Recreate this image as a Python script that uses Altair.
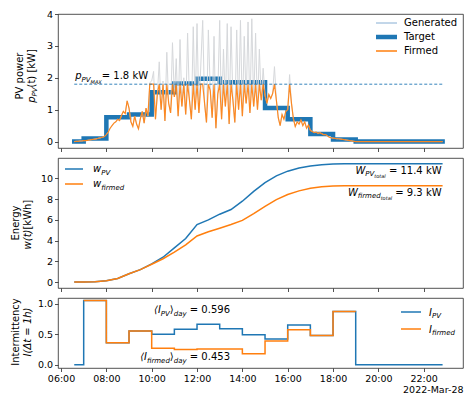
import altair as alt
import pandas as pd

FONT = "DejaVu Sans"
F = 10
BLUE = "#1f77b4"
ORANGE = "#ff7f0e"
DAY = "2022-03-28"

# ---------------- data ----------------
power_start = "06:35"   # 5-minute samples from here to 19:00
power_end = "22:50"
generated = [
    0.00, 0.01, 0.01, 0.02, 0.02,
    0.03, 0.03, 0.04, 0.05, 0.06, 0.07, 0.08, 0.09, 0.11, 0.12, 0.14, 0.16,
    0.22, 0.30, 0.42, 0.50, 0.58, 0.62, 0.70, 0.66, 0.82, 0.95, 0.88, 1.28,
    1.05, 0.62, 0.48, 0.80, 0.55, 0.40, 0.72, 0.95, 0.58, 1.05, 0.80, 1.85,
    1.90, 2.20, 0.70, 1.50, 2.50, 1.00, 1.90, 0.65, 2.80, 1.20, 0.90, 3.10,
    1.40, 2.60, 0.80, 3.20, 1.10, 2.00, 0.85, 3.40, 1.30, 0.70, 3.60, 1.00,
    3.70, 0.90, 2.40, 3.80, 1.20, 0.60, 3.50, 1.60, 0.75, 3.30, 0.42, 1.50,
    3.80, 0.70, 2.90, 1.10, 3.70, 0.55, 3.60, 1.30, 0.60, 3.50, 1.00, 3.80,
    0.80, 3.30, 1.20, 3.75, 0.90, 3.85, 1.10, 3.40, 1.00, 2.90, 1.30, 2.30,
    1.45, 1.20, 1.48, 1.35, 1.50, 2.35, 1.30, 0.75, 0.50, 0.85, 0.70, 0.95,
    1.00, 2.10, 1.20, 0.72, 0.47, 0.62, 0.55, 0.68, 0.50, 0.62, 0.42, 0.52,
    0.35, 0.32, 0.28, 0.30, 0.26, 0.28, 0.25, 0.22, 0.22, 0.18, 0.14, 0.12,
    0.11, 0.10, 0.09, 0.09, 0.08, 0.07, 0.06, 0.05, 0.04, 0.03, 0.02, 0.01,
    0.00,
]
firmed = [
    0.00, 0.01, 0.01, 0.02, 0.02,
    0.03, 0.03, 0.04, 0.05, 0.06, 0.07, 0.08, 0.09, 0.11, 0.12, 0.14, 0.16,
    0.22, 0.30, 0.42, 0.50, 0.58, 0.62, 0.70, 0.66, 0.82, 0.95, 0.88, 1.28,
    1.05, 0.62, 0.48, 0.80, 0.55, 0.40, 0.72, 0.95, 0.58, 1.05, 0.80, 1.80,
    1.80, 1.80, 0.70, 1.50, 1.80, 1.00, 1.80, 0.65, 1.80, 1.20, 0.90, 1.80,
    1.40, 1.80, 0.80, 1.80, 1.10, 1.80, 0.85, 1.80, 1.30, 0.70, 1.80, 1.00,
    1.80, 0.90, 1.80, 1.80, 1.20, 0.60, 1.80, 1.60, 0.75, 1.80, 0.42, 1.50,
    1.80, 0.70, 1.80, 1.10, 1.80, 0.55, 1.80, 1.30, 0.60, 1.80, 1.00, 1.80,
    0.80, 1.80, 1.20, 1.80, 0.90, 1.80, 1.10, 1.80, 1.00, 1.80, 1.30, 1.80,
    1.45, 1.20, 1.48, 1.35, 1.50, 1.80, 1.30, 0.75, 0.50, 0.85, 0.70, 0.95,
    1.00, 1.80, 1.20, 0.72, 0.47, 0.62, 0.55, 0.68, 0.50, 0.62, 0.42, 0.52,
    0.35, 0.32, 0.28, 0.30, 0.26, 0.28, 0.25, 0.22, 0.22, 0.18, 0.14, 0.12,
    0.11, 0.10, 0.09, 0.09, 0.08, 0.07, 0.06, 0.05, 0.04, 0.03, 0.02, 0.01,
    0.00,
]

target_times = ["06:35", "07:00", "08:00", "09:00", "10:00", "11:00", "12:00",
                "13:00", "14:00", "15:00", "16:00", "17:00", "18:00", "19:00", "22:50"]
target = [0.00, 0.10, 0.76, 0.85, 1.55, 1.82, 1.97, 1.86, 1.86, 1.05, 0.70, 0.24, 0.07, 0.00, 0.00]
P_MAX = 1.8

energy_times = ["06:35", "07:00", "07:30", "08:00", "08:30", "09:00", "09:30", "10:00", "10:30",
                "11:00", "11:30", "12:00", "12:30", "13:00", "13:30", "14:00", "14:30", "15:00",
                "15:30", "16:00", "16:30", "17:00", "17:30", "18:00", "18:30", "19:00", "22:50"]
w_pv = [0.00, 0.00, 0.03, 0.12, 0.35, 0.80, 1.20, 1.75, 2.40, 3.30, 4.20, 5.55, 6.00, 6.55,
        7.00, 7.80, 8.75, 9.60, 10.25, 10.70, 11.00, 11.20, 11.32, 11.38, 11.41, 11.42, 11.42]
w_firmed = [0.00, 0.00, 0.03, 0.12, 0.35, 0.80, 1.20, 1.72, 2.25, 2.90, 3.60, 4.45, 4.85, 5.20,
            5.55, 5.95, 6.60, 7.30, 7.95, 8.45, 8.80, 9.05, 9.20, 9.27, 9.30, 9.30, 9.30]
W_PV_TOTAL = 11.4
W_FIRMED_TOTAL = 9.3

int_pv_times = target_times
i_pv = [0.00, 1.05, 0.36, 0.55, 0.50, 0.58, 0.66, 0.59, 0.49, 0.42, 0.65, 0.48, 0.87, 0.00, 0.00]
int_firmed_times = ["07:00", "08:00", "09:00", "10:00", "11:00", "12:00", "13:00",
                    "14:00", "15:00", "16:00", "17:00", "18:00", "19:00"]
i_firmed = [1.05, 0.36, 0.55, 0.27, 0.25, 0.26, 0.26, 0.18, 0.39, 0.57, 0.48, 0.87, 0.87]
I_PV_DAY = 0.596
I_FIRMED_DAY = 0.453


def stamp(hm):
    return f"{DAY}T{hm}:00"


ptimes = [t.strftime("%Y-%m-%dT%H:%M:%S")
          for t in pd.date_range(f"{DAY} {power_start}", periods=len(generated), freq="5min")]
ptimes.append(stamp(power_end))
power_df = pd.DataFrame({"t": ptimes, "gen": generated + [0.0], "firm": firmed + [0.0]})
target_df = pd.DataFrame({"t": [stamp(s) for s in target_times], "v": target})
pmax_df = pd.DataFrame({"t": [stamp(power_start), stamp(power_end)], "v": [P_MAX, P_MAX]})
energy_df = pd.DataFrame({"t": [stamp(s) for s in energy_times], "pv": w_pv, "fi": w_firmed})
ipv_df = pd.DataFrame({"t": [stamp(s) for s in int_pv_times], "v": i_pv})
ifi_df = pd.DataFrame({"t": [stamp(s) for s in int_firmed_times], "v": i_firmed})

# ---------------- helpers ----------------
ADV = {' ': .318, '=': .838, '.': .318, 'k': .579, 'W': .989, 'V': .684, 'P': .603, 'p': .635,
       'h': .634, '(': .390, ')': .390, '[': .390, ']': .390, 't': .392, 'w': .818, 'I': .295,
       'd': .635, 'a': .613, 'y': .592, 'f': .352, 'i': .278, 'r': .411, 'm': .974, 'e': .615,
       'o': .612, 'l': .278, 'M': .863, 'A': .684, 'X': .685, '⟨': .390, '⟩': .390, 'Δ': .684,
       'n': .634, 'c': .550, 'g': .635, 'E': .632}
for _d in "0123456789":
    ADV[_d] = .636


def tw(s, size):
    return sum(ADV.get(c, 0.6) for c in s) * size


def rich(pieces, x, y, align="left", data=None, dx0=0.0, dy0=0.0):
    out = []
    seq = pieces if align == "left" else list(reversed(pieces))
    off = dx0
    for text, size, italic, shift in seq:
        props = dict(text=text, font=FONT, fontSize=size, color="black", align=align,
                     baseline="alphabetic", dx=off, dy=dy0 + shift)
        if italic:
            props["fontStyle"] = "italic"
        base = alt.Chart(data) if data is not None else alt.Chart()
        out.append(base.mark_text(**props).encode(x=x, y=y))
        w = tw(text, size)
        off = off + w if align == "left" else off - w
    return out


def vtitle(pieces, x, yc):
    total = sum(tw(t, s) for t, s, _, _ in pieces)
    y = yc + total / 2
    out = []
    for text, size, italic, shift in pieces:
        props = dict(text=text, font=FONT, fontSize=size, color="black", align="left",
                     baseline="middle", angle=270)
        if italic:
            props["fontStyle"] = "italic"
        out.append(alt.Chart().mark_text(**props).encode(x=alt.value(x + shift), y=alt.value(y)))
        y -= tw(text, size)
    return out


def leg_line(x1, x2, y, color, width):
    return alt.Chart().mark_rule(color=color, strokeWidth=width).encode(
        x=alt.value(x1), x2=alt.value(x2), y=alt.value(y))


def dt(h, m=0):
    return alt.DateTime(year=2022, month=3, date=28, hours=h, minutes=m)


W = 405
H1, H2, H3 = 134, 130, 70
S = 0.7 * F
SS = 0.5 * F

xscale = alt.Scale(domain=[dt(5, 52), dt(23, 44)])
tick_vals = [dt(h) for h in range(6, 23, 2)]
ax_hidden = alt.Axis(values=tick_vals, labels=False, title=None)
ax_bottom = alt.Axis(values=tick_vals, format="%H:%M", title="2022-Mar-28", titleAnchor="end")
X_hidden = alt.X("t:T", scale=xscale, axis=ax_hidden)
X_bottom = alt.X("t:T", scale=xscale, axis=ax_bottom)


def Yq(field, domain, values, fmt="d"):
    return alt.Y(f"{field}:Q", scale=alt.Scale(domain=domain, nice=False, zero=False),
                 axis=alt.Axis(values=values, title=None, format=fmt))


Y1 = lambda f: Yq(f, [-0.2, 4.0], [0, 1, 2, 3, 4])
Y2 = lambda f: Yq(f, [-0.57, 11.97], [0, 2, 4, 6, 8, 10])
Y3 = lambda f: Yq(f, [-0.052, 1.09], [0.0, 0.5, 1.0], ".1f")

# ---------------- top panel ----------------
top_layers = [
    alt.Chart(target_df).mark_line(interpolate="step-after", color=BLUE, strokeWidth=4.5,
                                   strokeCap="square").encode(x=X_hidden, y=Y1("v")),
    alt.Chart(power_df).mark_line(color="#d6d8db", strokeWidth=1).encode(x=X_hidden, y=Y1("gen")),
    alt.Chart(power_df).mark_line(color=ORANGE, strokeWidth=1.2, opacity=0.9).encode(
        x=X_hidden, y=Y1("firm")),
    alt.Chart(pmax_df).mark_line(color=BLUE, strokeWidth=0.9, strokeDash=[3, 2]).encode(
        x=X_hidden, y=Y1("v")),
]
pmax_anchor = pd.DataFrame({"t": [stamp(power_start)], "v": [P_MAX]})
top_layers += rich([("p", F, True, 0), ("PV", S, True, 2.5), ("MAX", SS, True, 4.5),
                    (f" = {P_MAX:.1f} kW", F, False, 0)],
                   X_hidden, Y1("v"), align="left", data=pmax_anchor, dx0=1, dy0=-5)
top_layers += [
    leg_line(W - 87, W - 66, 9, "#86aed3", 1.0),
    leg_line(W - 87, W - 66, 23, BLUE, 4.5),
    leg_line(W - 87, W - 66, 37, ORANGE, 1.5),
]
for lab, yy in [("Generated", 9), ("Target", 23), ("Firmed", 37)]:
    top_layers.append(alt.Chart().mark_text(text=lab, font=FONT, fontSize=F, color="black",
                                            align="left", baseline="middle").encode(
        x=alt.value(W - 59), y=alt.value(yy)))
top_layers.append(alt.Chart().mark_text(text="PV power", font=FONT, fontSize=F, color="black",
                                        align="center", baseline="middle", angle=270).encode(
    x=alt.value(-38), y=alt.value(62)))
top_layers += vtitle([("p", F, True, 0), ("PV", S, True, 3), ("(t) [kW]", F, False, 0)], -26, 62)
top = alt.layer(*top_layers).properties(width=W, height=H1)

# ---------------- middle panel ----------------
mid_layers = [
    alt.Chart(energy_df).mark_line(color=BLUE, strokeWidth=1.5).encode(x=X_hidden, y=Y2("pv")),
    alt.Chart(energy_df).mark_line(color=ORANGE, strokeWidth=1.5).encode(x=X_hidden, y=Y2("fi")),
]
wpv_anchor = pd.DataFrame({"t": [stamp(power_end)], "v": [W_PV_TOTAL]})
wfi_anchor = pd.DataFrame({"t": [stamp(power_end)], "v": [W_FIRMED_TOTAL]})
mid_layers += rich([("W", F, True, 0), ("PV", S, True, 2.5), ("total", SS, True, 4.5),
                    (f" = {W_PV_TOTAL:.1f} kW", F, False, 0)],
                   X_hidden, Y2("v"), align="right", data=wpv_anchor, dx0=-1, dy0=10)
mid_layers += rich([("W", F, True, 0), ("firmed", S, True, 2.5), ("total", SS, True, 4.5),
                    (f" = {W_FIRMED_TOTAL:.1f} kW", F, False, 0)],
                   X_hidden, Y2("v"), align="right", data=wfi_anchor, dx0=-1, dy0=10)
mid_layers += [leg_line(7, 25, 11, BLUE, 1.5), leg_line(7, 25, 26, ORANGE, 1.5)]
mid_layers += rich([("w", F, True, 0), ("PV", S, True, 2.5)], alt.value(35), alt.value(14))
mid_layers += rich([("w", F, True, 0), ("firmed", S, True, 2.5)], alt.value(35), alt.value(29))
mid_layers.append(alt.Chart().mark_text(text="Energy", font=FONT, fontSize=F, color="black",
                                        align="center", baseline="middle", angle=270).encode(
    x=alt.value(-42), y=alt.value(H2 / 2)))
mid_layers += vtitle([("w(t)", F, True, 0), (" [kWh]", F, False, 0)], -30, H2 / 2)
mid = alt.layer(*mid_layers).properties(width=W, height=H2)

# ---------------- bottom panel ----------------
bot_layers = [
    alt.Chart(ipv_df).mark_line(interpolate="step-after", color=BLUE, strokeWidth=1.5).encode(
        x=X_bottom, y=Y3("v")),
    alt.Chart(ifi_df).mark_line(interpolate="step-after", color=ORANGE, strokeWidth=1.5).encode(
        x=X_bottom, y=Y3("v")),
]
bot_layers += rich([("⟨I", F, True, 0), ("PV", S, True, 2.5), ("⟩", F, False, 0),
                    ("day", S, True, 2.5), (f" = {I_PV_DAY:.3f}", F, False, 0)],
                   alt.value(172), alt.value(15), align="right")
bot_layers += rich([("⟨I", F, True, 0), ("firmed", S, True, 2.5), ("⟩", F, False, 0),
                    ("day", S, True, 2.5), (f" = {I_FIRMED_DAY:.3f}", F, False, 0)],
                   alt.value(172), alt.value(62), align="right")
bot_layers += [leg_line(W - 62, W - 42, 14, BLUE, 1.5), leg_line(W - 62, W - 42, 31, ORANGE, 1.5)]
bot_layers += rich([("I", F, True, 0), ("PV", S, True, 2.5)], alt.value(W - 34), alt.value(17.5))
bot_layers += rich([("I", F, True, 0), ("firmed", S, True, 2.5)], alt.value(W - 34), alt.value(34.5))
bot_layers.append(alt.Chart().mark_text(text="Intermittency", font=FONT, fontSize=F, color="black",
                                        align="center", baseline="middle", angle=270).encode(
    x=alt.value(-42), y=alt.value(H3 / 2 - 1)))
bot_layers.append(alt.Chart().mark_text(text="I(Δt = 1h)", font=FONT, fontSize=F, color="black",
                                        fontStyle="italic", align="center", baseline="middle",
                                        angle=270).encode(x=alt.value(-30), y=alt.value(H3 / 2 - 1)))
bot = alt.layer(*bot_layers).properties(width=W, height=H3)

chart = alt.vconcat(top, mid, bot, spacing=4).properties(
    padding={"left": 2, "top": 0, "right": 0, "bottom": 0}
).configure_view(stroke="#262626", strokeWidth=0.8).configure_axis(
    domain=False, grid=False, tickColor="#262626", tickWidth=0.8, tickSize=3.5,
    labelColor="black", labelFont=FONT, labelFontSize=9.5, labelPadding=2,
    labelFlush=False, labelOverlap=False,
    titleFont=FONT, titleFontSize=9.5, titleColor="black", titleFontWeight="normal", titlePadding=1
)

chart.save("out.html", embed_options={"renderer": "svg", "actions": False})
